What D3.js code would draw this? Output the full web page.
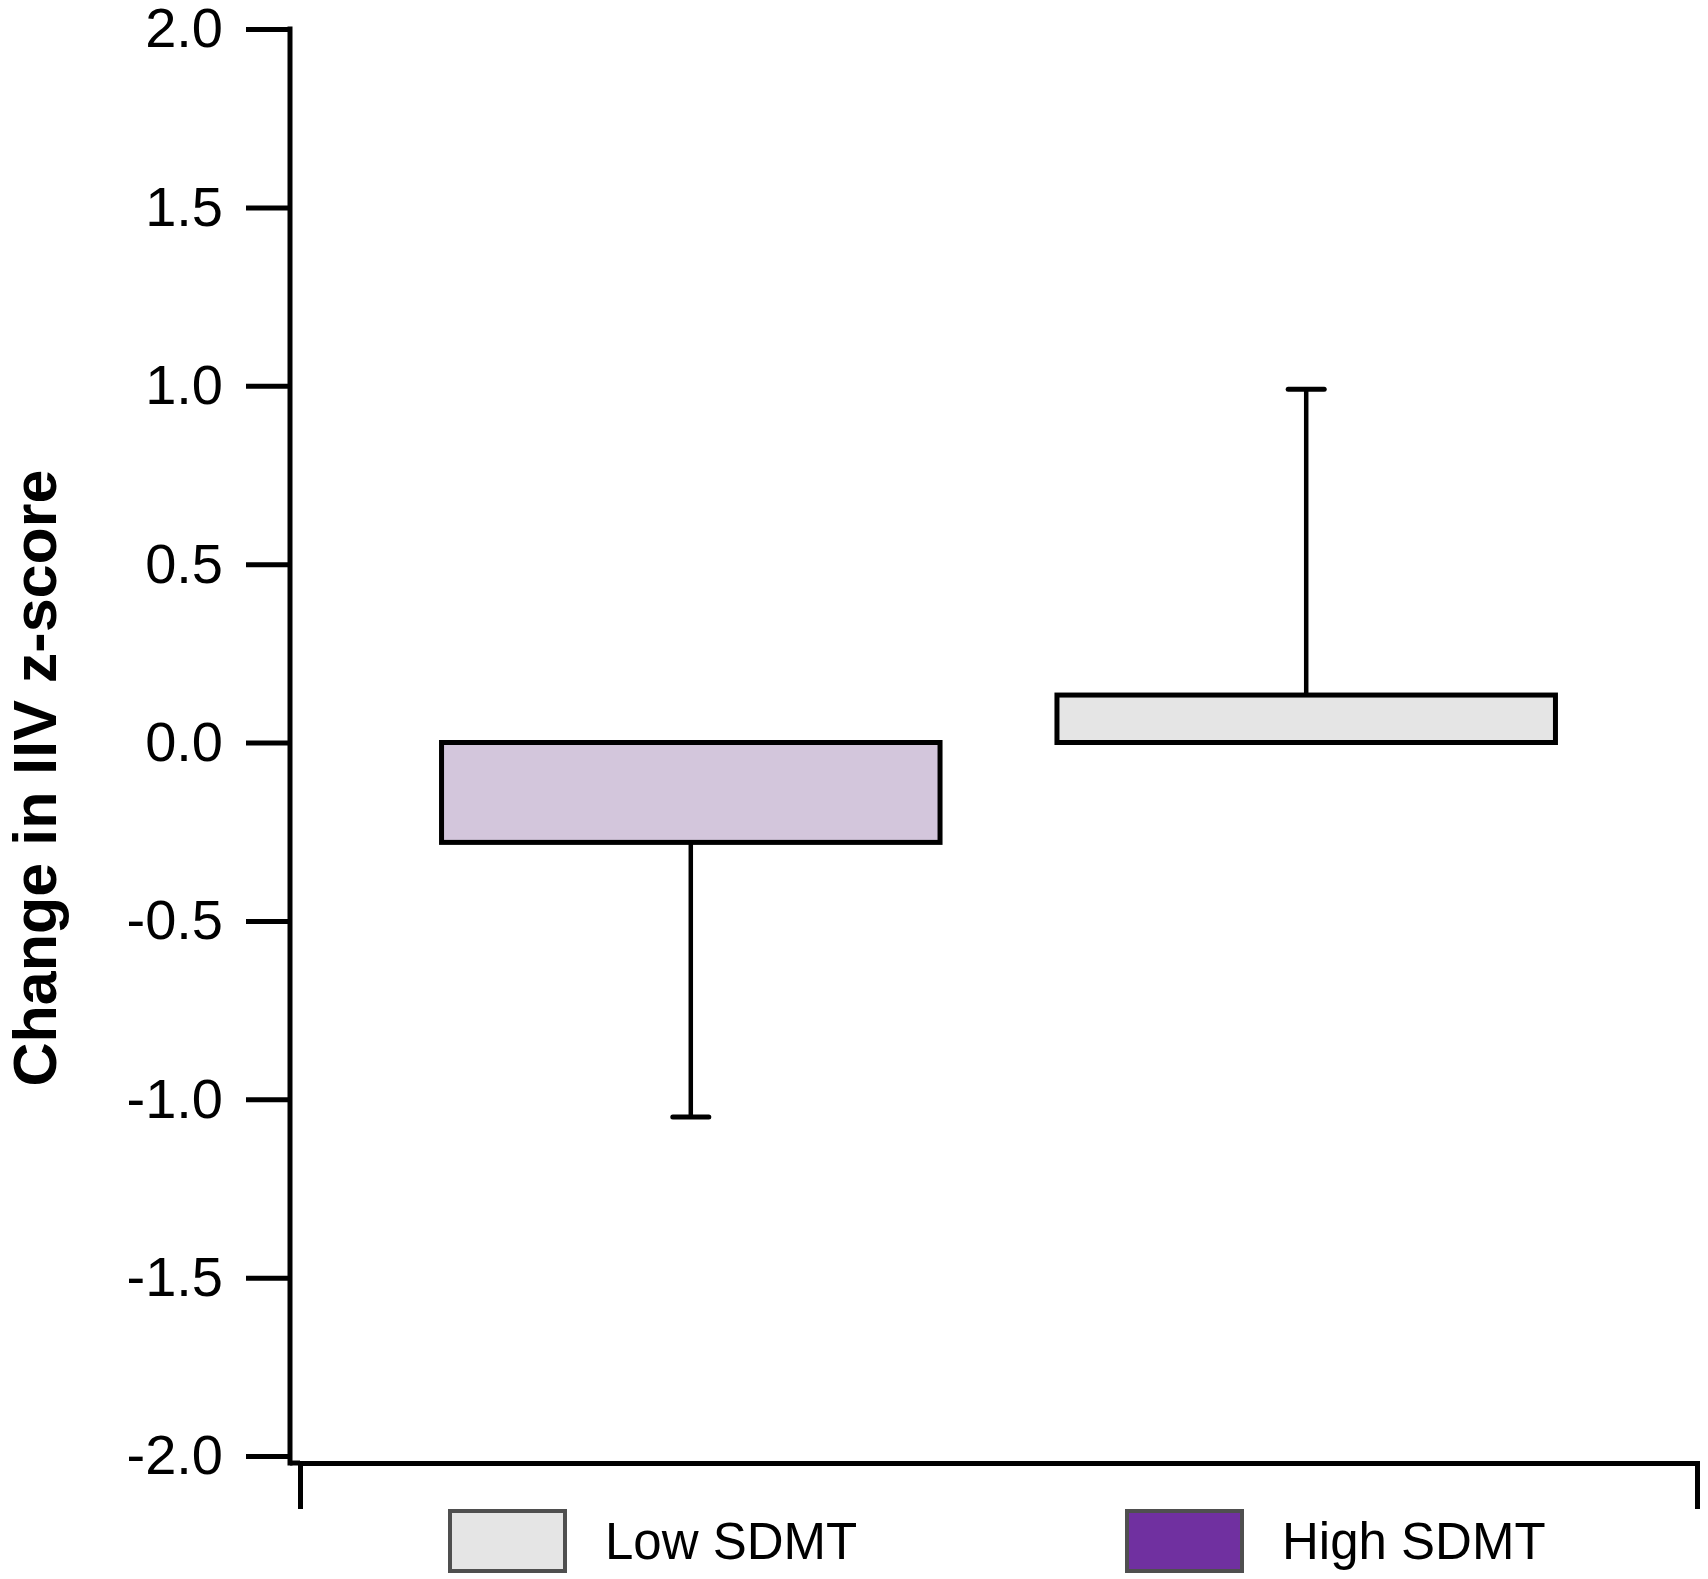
<!DOCTYPE html>
<html>
<head>
<meta charset="utf-8">
<script src="https://cdn.jsdelivr.net/npm/d3@7"></script>
<style>
  html, body { margin: 0; padding: 0; background: #fff; }
  svg { display: block; }
  text { font-family: Arial, "Liberation Sans", sans-serif; }
</style>
</head>
<body>
<script>
// ---- data ----
const groups = ["High SDMT", "Low SDMT"];          // bar order, left to right
const means = [-0.28, 0.133];                        // bar heights
const errorEnds = [-1.05, 0.99];                     // one-sided error bar ends
const barFills = ["#D3C6DC", "#E5E5E5"];
const yTicks = [-2.0, -1.5, -1.0, -0.5, 0.0, 0.5, 1.0, 1.5, 2.0];
const legendLabels = ["Low SDMT", "High SDMT"];
const legendFills = ["#E5E5E5", "#7030A0"];
const yTitle = "Change in IIV z-score";

// ---- layout ----
const W = 1708, H = 1579;
const axisX = 290, xAxisY = 1463;

const svg = d3.select("body").append("svg")
  .attr("width", W).attr("height", H);

const y = d3.scaleLinear().domain([-2, 2]).range([1456, 29]);
const x = d3.scaleBand().domain(groups).range([300, 1697])
  .paddingInner(0.19).paddingOuter(0.23);

// y axis
const yAxis = d3.axisLeft(y).tickValues(yTicks)
  .tickFormat(d => d.toFixed(1))
  .tickSize(44).tickSizeOuter(0).tickPadding(23);
const gy = svg.append("g").attr("transform", `translate(${axisX},0)`).call(yAxis);
gy.select(".domain").remove();
gy.selectAll(".tick line").attr("stroke", "#000").attr("stroke-width", 5);
gy.selectAll(".tick text").attr("font-size", 56).attr("fill", "#000")
  .attr("font-family", "Arial, 'Liberation Sans', sans-serif");
svg.append("line")
  .attr("x1", axisX).attr("x2", axisX)
  .attr("y1", y(2) - 2.5).attr("y2", xAxisY + 2.5)
  .attr("stroke", "#000").attr("stroke-width", 5);

// x axis (no tick labels, outer end ticks only)
const xAxis = d3.axisBottom(x).tickValues([]).tickSizeOuter(46);
const gx = svg.append("g").attr("transform", `translate(0,${xAxisY})`).call(xAxis);
gx.select(".domain").attr("stroke", "#000").attr("stroke-width", 5).attr("fill", "none");
svg.append("line")
  .attr("x1", axisX).attr("x2", x.range()[0])
  .attr("y1", xAxisY).attr("y2", xAxisY)
  .attr("stroke", "#000").attr("stroke-width", 5);

// error bars
const capW = 36;
groups.forEach((g, i) => {
  const cx = x(g) + x.bandwidth() / 2;
  svg.append("line")
    .attr("x1", cx).attr("x2", cx)
    .attr("y1", y(means[i])).attr("y2", y(errorEnds[i]))
    .attr("stroke", "#000").attr("stroke-width", 4.5);
  svg.append("line")
    .attr("x1", cx - capW / 2).attr("x2", cx + capW / 2)
    .attr("y1", y(errorEnds[i])).attr("y2", y(errorEnds[i]))
    .attr("stroke", "#000").attr("stroke-width", 5).attr("stroke-linecap", "round");
});

// bars
svg.selectAll("rect.bar").data(groups).enter().append("rect")
  .attr("class", "bar")
  .attr("x", d => x(d))
  .attr("width", x.bandwidth())
  .attr("y", (d, i) => Math.min(y(0), y(means[i])))
  .attr("height", (d, i) => Math.abs(y(0) - y(means[i])))
  .attr("fill", (d, i) => barFills[i])
  .attr("stroke", "#000").attr("stroke-width", 5);

// y title
svg.append("text")
  .attr("transform", "rotate(-90)")
  .attr("x", -778).attr("y", 56)
  .attr("text-anchor", "middle")
  .attr("font-size", 61).attr("font-weight", "bold").attr("fill", "#000")
  .text(yTitle);

// legend
const legX = [450, 1127];
legendLabels.forEach((lab, i) => {
  svg.append("rect")
    .attr("x", legX[i]).attr("y", 1511)
    .attr("width", 115).attr("height", 60)
    .attr("fill", legendFills[i])
    .attr("stroke", "#4f4f4f").attr("stroke-width", 4);
  svg.append("text")
    .attr("x", legX[i] + 155).attr("y", 1559)
    .attr("font-size", 51).attr("fill", "#000")
    .text(lab);
});
</script>
</body>
</html>
